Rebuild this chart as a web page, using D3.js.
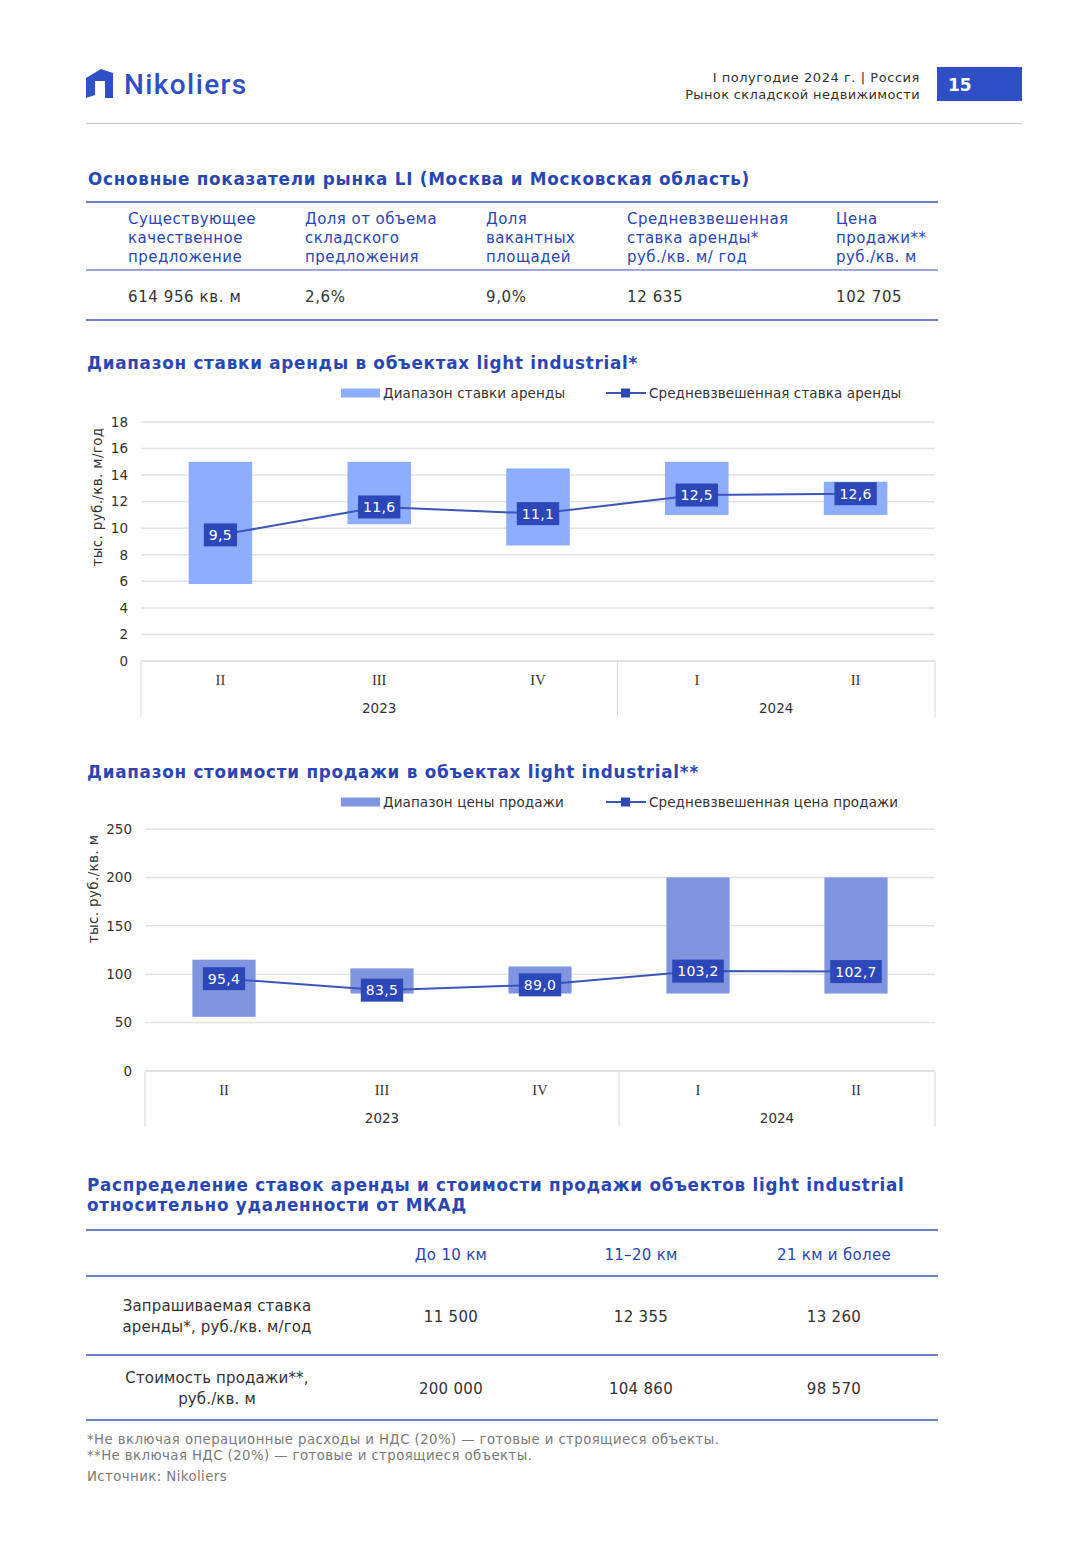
<!DOCTYPE html>
<html><head><meta charset="utf-8">
<script src="https://cdn.jsdelivr.net/npm/d3@7"></script>
<style>
html,body{margin:0;padding:0;background:#fff;}
svg{display:block;}
</style></head>
<body>
<svg id="page" width="1080" height="1560"></svg>
<script>
// ---------- DATA ----------
const quarters = ["II", "III", "IV", "I", "II"];
const yearLabels = ["2023", "2024"];
const yearSpans = [3, 2];

const rentLow  = [5.8, 10.3, 8.7, 11.0, 11.0];
const rentHigh = [15.0, 15.0, 14.5, 15.0, 13.5];
const rentAvg  = [9.5, 11.6, 11.1, 12.5, 12.6];
const rentTicks = [0, 2, 4, 6, 8, 10, 12, 14, 16, 18];

const saleLow  = [56, 80, 80, 80, 80];
const saleHigh = [115, 106, 108, 200, 200];
const saleAvg  = [95.4, 83.5, 89.0, 103.2, 102.7];
const saleTicks = [0, 50, 100, 150, 200, 250];

const kpiHeaders = [
  ["Существующее", "качественное", "предложение"],
  ["Доля от объема", "складского", "предложения"],
  ["Доля", "вакантных", "площадей"],
  ["Средневзвешенная", "ставка аренды*", "руб./кв. м/ год"],
  ["Цена", "продажи**", "руб./кв. м"]
];
const kpiValues = ["614 956 кв. м", "2,6%", "9,0%", "12 635", "102 705"];

const distHeaders = ["До 10 км", "11–20 км", "21 км и более"];
const distRowLabels = [["Запрашиваемая ставка", "аренды*, руб./кв. м/год"], ["Стоимость продажи**,", "руб./кв. м"]];
const distRent = ["11 500", "12 355", "13 260"];
const distSale = ["200 000", "104 860", "98 570"];

const footnotes = [
  "*Не включая операционные расходы и НДС (20%) — готовые и строящиеся объекты.",
  "**Не включая НДС (20%) — готовые и строящиеся объекты.",
  "Источник: Nikoliers"
];

// ---------- STYLE ----------
const FONT = "'DejaVu Sans', Verdana, sans-serif";
const BLUE = "#2f4fc4";
const TITLE_BLUE = "#2a46b3";
const LINE_BLUE = "#3b55b8";
const TEXT = "#333";
const GRID = "#e3e3e3";

const svg = d3.select("#page");

// ---------- HEADER ----------
const logo = svg.append("g");
logo.append("path")
  .attr("d", "M86,78 L101,69 L113,73 L113,98 L105,98 L105,81 L95,81 L95,95 L86,98 Z")
  .attr("fill", BLUE);
logo.append("text").attr("x", 124).attr("y", 94)
  .attr("font-family", "Roboto, Inter, sans-serif").attr("font-weight", 500)
  .attr("font-size", 28).attr("letter-spacing", 1.4).attr("fill", BLUE).text("Nikoliers");

svg.append("text").attr("x", 920).attr("y", 82).attr("text-anchor", "end")
  .attr("font-family", FONT).attr("font-size", 13).attr("letter-spacing", 0.55).attr("fill", TEXT)
  .text("I полугодие 2024 г. | Россия");
svg.append("text").attr("x", 920).attr("y", 99).attr("text-anchor", "end")
  .attr("font-family", FONT).attr("font-size", 13).attr("letter-spacing", 0.35).attr("fill", TEXT)
  .text("Рынок складской недвижимости");
svg.append("rect").attr("x", 937).attr("y", 67).attr("width", 85).attr("height", 34).attr("fill", BLUE);
svg.append("text").attr("x", 948).attr("y", 91)
  .attr("font-family", FONT).attr("font-weight", "bold").attr("font-size", 17).attr("fill", "#fff").text("15");
svg.append("line").attr("x1", 86).attr("x2", 1022).attr("y1", 123.5).attr("y2", 123.5)
  .attr("stroke", "#c8c8c8").attr("stroke-width", 1);

function title(x, y, txt) {
  svg.append("text").attr("x", x).attr("y", y)
    .attr("font-family", FONT).attr("font-weight", "bold").attr("font-size", 16.8)
    .attr("letter-spacing", 0.75).attr("fill", TITLE_BLUE).text(txt);
}
function hline(y, x1, x2, w) {
  svg.append("line").attr("x1", x1).attr("x2", x2).attr("y1", y).attr("y2", y)
    .attr("stroke", LINE_BLUE).attr("stroke-width", w || 1.5);
}

// ---------- KPI TABLE ----------
title(88, 185, "Основные показатели рынка LI (Москва и Московская область)");
hline(202, 86, 938);
hline(270, 86, 938, 1.2);
hline(320, 86, 938);
const kpiX = [128, 305, 486, 627, 836];
kpiHeaders.forEach((lines, i) => {
  lines.forEach((l, j) => {
    svg.append("text").attr("x", kpiX[i]).attr("y", 224 + j * 19)
      .attr("font-family", FONT).attr("font-size", 15).attr("letter-spacing", 0.45)
      .attr("fill", TITLE_BLUE).text(l);
  });
  svg.append("text").attr("x", kpiX[i]).attr("y", 302)
    .attr("font-family", FONT).attr("font-size", 15).attr("letter-spacing", 0.6)
    .attr("fill", TEXT).text(kpiValues[i]);
});

// ---------- RANGE CHART ----------
function rangeChart(opt) {
  const g = svg.append("g");
  const x = d3.scaleBand().domain(d3.range(quarters.length)).range([opt.x0, opt.x1]).padding(0);
  const y = d3.scaleLinear().domain(opt.domain).range([opt.y0, opt.yTop]);
  const bw = x.bandwidth() * 0.4;

  title(87, opt.titleY, opt.title);

  // legend
  const ly = opt.legendY;
  g.append("rect").attr("x", 341).attr("y", ly - 4.5).attr("width", 39).attr("height", 9).attr("fill", opt.barColor);
  g.append("text").attr("x", 383).attr("y", ly + 5).attr("font-family", FONT).attr("font-size", 13.5)
    .attr("letter-spacing", 0.1).attr("fill", TEXT).text(opt.legend1);
  g.append("line").attr("x1", 606).attr("x2", 646).attr("y1", ly).attr("y2", ly)
    .attr("stroke", LINE_BLUE).attr("stroke-width", 2);
  g.append("rect").attr("x", 621).attr("y", ly - 4.5).attr("width", 9).attr("height", 9).attr("fill", "#2d49b8");
  g.append("text").attr("x", 649).attr("y", ly + 5).attr("font-family", FONT).attr("font-size", 13.5)
    .attr("letter-spacing", 0.1).attr("fill", TEXT).text(opt.legend2);

  // grid
  g.selectAll(".grid").data(opt.ticks.filter(t => t > 0)).join("line")
    .attr("x1", opt.x0).attr("x2", opt.x1)
    .attr("y1", d => y(d)).attr("y2", d => y(d))
    .attr("stroke", GRID).attr("stroke-width", 1.5);

  // y axis
  const yAxis = d3.axisLeft(y).tickValues(opt.ticks).tickSize(0).tickPadding(0).tickFormat(d3.format("d"));
  const ya = g.append("g").attr("transform", `translate(${opt.tickX},0)`).call(yAxis);
  ya.select(".domain").remove();
  ya.selectAll("text").attr("font-family", FONT).attr("font-size", 13.5).attr("fill", TEXT);

  // y title
  g.append("text").attr("transform", `translate(${opt.yTitleX},${opt.yTitleY}) rotate(-90)`)
    .attr("text-anchor", "middle").attr("font-family", FONT).attr("font-size", 13.5)
    .attr("letter-spacing", 0.35).attr("fill", TEXT).text(opt.yTitle);

  // category axis
  const axisColor = "#d9d9d9";
  g.append("line").attr("x1", opt.x0).attr("x2", opt.x1).attr("y1", opt.y0).attr("y2", opt.y0)
    .attr("stroke", axisColor).attr("stroke-width", 1.5);
  const xa = d3.axisBottom(x).tickSize(0).tickPadding(0).tickFormat(i => quarters[i]);
  const xg = g.append("g").attr("transform", `translate(0,${opt.y0 + 24})`).call(xa);
  xg.select(".domain").remove();
  xg.selectAll("text").attr("font-family", "'Liberation Serif', 'DejaVu Serif', serif")
    .attr("font-size", 14.5).attr("fill", TEXT).attr("dy", 0);
  let start = 0;
  const bounds = [opt.x0];
  yearLabels.forEach((yl, k) => {
    const end = start + yearSpans[k];
    const xs = x(start), xe = x(end - 1) + x.bandwidth();
    bounds.push(xe);
    g.append("text").attr("x", (xs + xe) / 2).attr("y", opt.y0 + 52).attr("text-anchor", "middle")
      .attr("font-family", FONT).attr("font-size", 13.5).attr("fill", TEXT).text(yl);
    start = end;
  });
  g.selectAll(".sep").data(bounds).join("line")
    .attr("x1", d => d).attr("x2", d => d).attr("y1", opt.y0).attr("y2", opt.y0 + 56)
    .attr("stroke", axisColor).attr("stroke-width", 1);

  // bars
  g.selectAll(".bar").data(quarters.map((q, i) => i)).join("rect")
    .attr("x", i => x(i) + x.bandwidth() / 2 - bw / 2)
    .attr("width", bw)
    .attr("y", i => y(opt.high[i]))
    .attr("height", i => y(opt.low[i]) - y(opt.high[i]))
    .attr("fill", opt.barColor);

  // line
  const line = d3.line().x(i => x(i) + x.bandwidth() / 2).y(i => y(opt.avg[i]));
  g.append("path").datum(d3.range(quarters.length)).attr("d", line)
    .attr("fill", "none").attr("stroke", LINE_BLUE).attr("stroke-width", 2);

  // labels
  const fmt = v => d3.format(".1f")(v).replace(".", ",");
  d3.range(quarters.length).forEach(i => {
    const cx = x(i) + x.bandwidth() / 2, cy = y(opt.avg[i]);
    const txt = fmt(opt.avg[i]);
    const t = g.append("text").attr("x", cx).attr("y", cy + 5).attr("text-anchor", "middle")
      .attr("font-family", FONT).attr("font-size", 14).attr("letter-spacing", 0.3)
      .attr("fill", "#fff").text(txt);
    const w = t.node().getComputedTextLength() + 10;
    g.insert("rect", () => t.node()).attr("x", cx - w / 2).attr("y", cy - 11.5)
      .attr("width", w).attr("height", 23).attr("fill", "#2c48b8");
  });
}

rangeChart({
  title: "Диапазон ставки аренды в объектах light industrial*",
  titleY: 369, legendY: 393,
  legend1: "Диапазон ставки аренды", legend2: "Средневзвешенная ставка аренды",
  x0: 141, x1: 935, y0: 661, yTop: 422, domain: [0, 18], ticks: rentTicks,
  tickX: 128, yTitleX: 102, yTitleY: 497, yTitle: "тыс. руб./кв. м/год",
  low: rentLow, high: rentHigh, avg: rentAvg, barColor: "#8fadff"
});

rangeChart({
  title: "Диапазон стоимости продажи в объектах light industrial**",
  titleY: 778, legendY: 802,
  legend1: "Диапазон цены продажи", legend2: "Средневзвешенная цена продажи",
  x0: 145, x1: 935, y0: 1071, yTop: 829, domain: [0, 250], ticks: saleTicks,
  tickX: 132, yTitleX: 98, yTitleY: 889, yTitle: "тыс. руб./кв. м",
  low: saleLow, high: saleHigh, avg: saleAvg, barColor: "#8095e0"
});

// ---------- DISTANCE TABLE ----------
title(87, 1191, "Распределение ставок аренды и стоимости продажи объектов light industrial");
title(87, 1211, "относительно удаленности от МКАД");
hline(1230, 86, 938);
hline(1276, 86, 938);
hline(1355, 86, 938);
hline(1420, 86, 938);
const colX = [451, 641, 834];
distHeaders.forEach((h, i) => {
  svg.append("text").attr("x", colX[i]).attr("y", 1260).attr("text-anchor", "middle")
    .attr("font-family", FONT).attr("font-size", 15).attr("letter-spacing", 0.3)
    .attr("fill", TITLE_BLUE).text(h);
});
const rowY = [1316, 1388];
distRowLabels.forEach((lines, r) => {
  lines.forEach((l, j) => {
    svg.append("text").attr("x", 217).attr("y", rowY[r] - 5 + j * 21).attr("text-anchor", "middle")
      .attr("font-family", FONT).attr("font-size", 15).attr("letter-spacing", 0.15)
      .attr("fill", TEXT).text(l);
  });
});
[distRent, distSale].forEach((vals, r) => {
  vals.forEach((v, i) => {
    svg.append("text").attr("x", colX[i]).attr("y", rowY[r] + 6).attr("text-anchor", "middle")
      .attr("font-family", FONT).attr("font-size", 15).attr("letter-spacing", 0.3)
      .attr("fill", TEXT).text(v);
  });
});

// ---------- FOOTNOTES ----------
[1444, 1460, 1481].forEach((yy, i) => {
  svg.append("text").attr("x", 87).attr("y", yy)
    .attr("font-family", FONT).attr("font-size", 13.3).attr("letter-spacing", 0.42)
    .attr("fill", "#7a7a7a").text(footnotes[i]);
});
</script>
</body></html>
